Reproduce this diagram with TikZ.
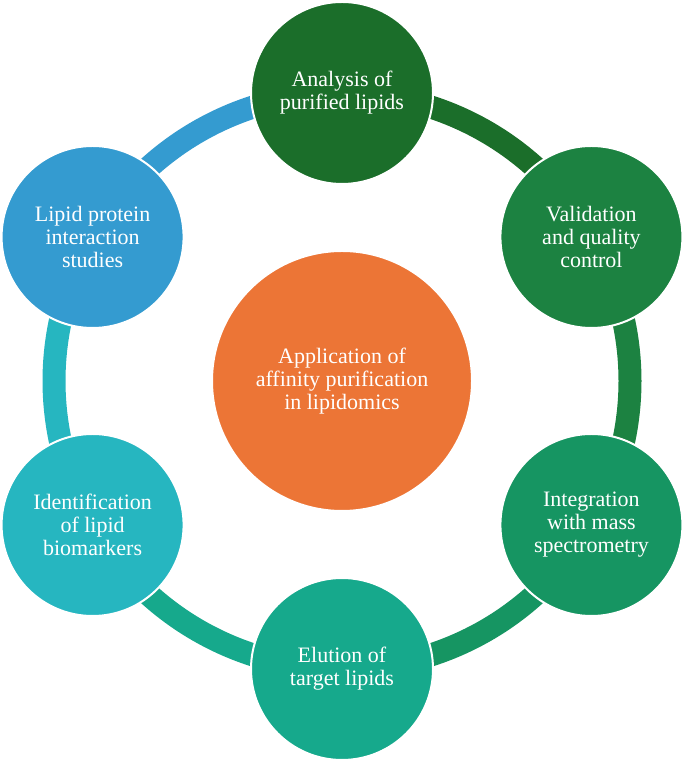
\documentclass[tikz,border=0pt]{standalone}
\usepackage{fontspec}
\setmainfont{Liberation Serif}
\usetikzlibrary{calc, backgrounds}
\definecolor{hubcol}{RGB}{236,117,54}
\definecolor{analysiscol}{RGB}{27,110,42}
\definecolor{validcol}{RGB}{28,130,65}
\definecolor{integcol}{RGB}{22,149,98}
\definecolor{elutcol}{RGB}{22,169,140}
\definecolor{markercol}{RGB}{38,182,192}
\definecolor{interactcol}{RGB}{52,155,208}

\begin{document}
\begin{tikzpicture}[x=1pt, y=1pt,
    stage/.style={circle, minimum size=182pt, inner sep=0pt, draw=white, line width=2pt,
      text=white, align=center, font=\fontsize{22}{23}\selectfont},
    hub/.style={stage, minimum size=260pt},
    band/.style={line width=23pt}]
  \useasboundingbox (0,0) rectangle (685,762);

  \node[hub, fill=hubcol] (hub) at (342,381) {Application of\\affinity purification\\in lipidomics};

  % the six stages around the hub
  \foreach \ang/\name/\col/\txt in {
      90/analysis/analysiscol/{Analysis of\\purified lipids},
      30/valid/validcol/{Validation\\and quality\\control},
      -30/integ/integcol/{Integration\\with mass\\spectrometry},
      -90/elut/elutcol/{Elution of\\target lipids},
      -150/marker/markercol/{Identification\\of lipid\\biomarkers},
      150/interact/interactcol/{Lipid protein\\interaction\\studies}}
    \node[stage, fill=\col] (\name) at ($(hub.center)+(\ang:288pt)$) {\txt};

  % ring bands, each in the colour of the stage it leaves
  \begin{scope}[on background layer]
    \foreach \ang/\name/\col in {90/analysis/analysiscol, 30/valid/validcol, -30/integ/integcol,
        -90/elut/elutcol, -150/marker/markercol, 150/interact/interactcol}
      \draw[band, \col] (\name.center) arc[start angle=\ang, end angle=\ang-60, radius=288pt];
  \end{scope}
\end{tikzpicture}
\end{document}
